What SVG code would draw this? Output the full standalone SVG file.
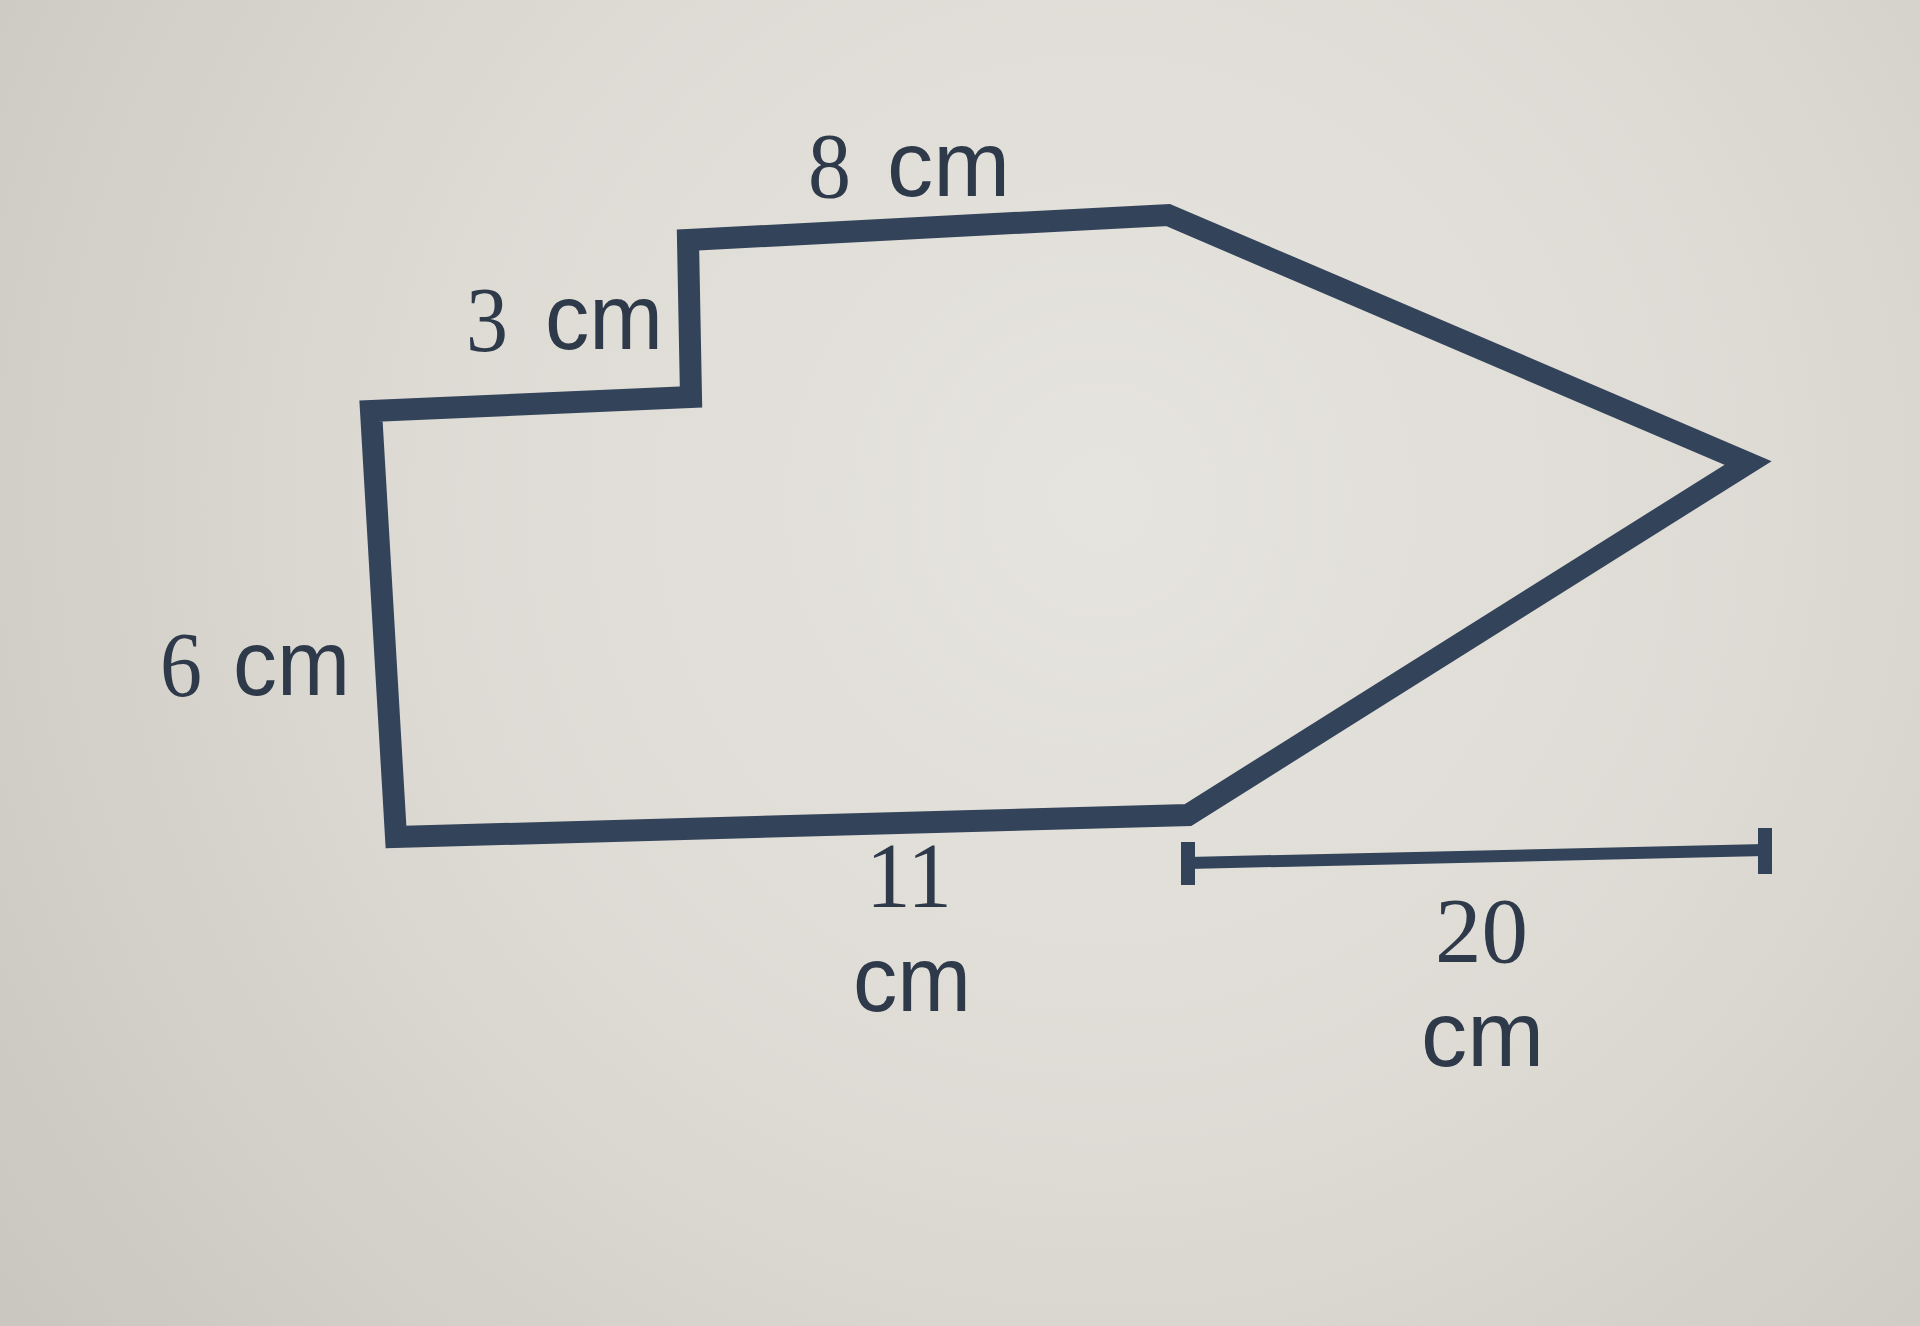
<svg xmlns="http://www.w3.org/2000/svg" width="1920" height="1326" viewBox="0 0 1920 1326">
<defs>
<radialGradient id="bg" cx="1100" cy="500" r="1350" gradientUnits="userSpaceOnUse">
<stop offset="0" stop-color="#e6e4de"/>
<stop offset="0.5" stop-color="#dddbd4"/>
<stop offset="1" stop-color="#c9c7c0"/>
</radialGradient>
<style>
.shape{fill:none;stroke:#33435a;stroke-width:22;stroke-linejoin:miter}
.bar{fill:none;stroke:#33435a;stroke-width:12}
.tick{fill:none;stroke:#33435a;stroke-width:14}
.num{font-family:"Liberation Serif","Times New Roman",serif;font-size:94px;fill:#2e394a}
.unit{font-family:"Liberation Sans",Arial,sans-serif;font-size:92px;fill:#2e394a}
</style>
</defs>
<rect x="0" y="0" width="1920" height="1326" fill="url(#bg)"/>
<g id="figure">
<polygon class="shape" points="688,240 1168,215 1748,463 1188,815 396,837 371,411 691,397"/>
</g>
<g id="connectors">
<line class="bar" x1="1188" y1="863" x2="1765" y2="850"/>
<line class="tick" x1="1188" y1="842" x2="1188" y2="885"/>
<line class="tick" x1="1765" y1="828" x2="1765" y2="874"/>
</g>
<g id="label-8cm">
<text class="num" x="808" y="197" textLength="43" lengthAdjust="spacingAndGlyphs">8</text>
<text class="unit" x="887" y="196" textLength="123" lengthAdjust="spacingAndGlyphs">cm</text>
</g>
<g id="label-3cm">
<text class="num" x="466" y="351" textLength="42" lengthAdjust="spacingAndGlyphs">3</text>
<text class="unit" x="545" y="349" textLength="118" lengthAdjust="spacingAndGlyphs">cm</text>
</g>
<g id="label-6cm">
<text class="num" x="160" y="696" textLength="42" lengthAdjust="spacingAndGlyphs">6</text>
<text class="unit" x="233" y="695" textLength="117" lengthAdjust="spacingAndGlyphs">cm</text>
</g>
<g id="label-11cm">
<text class="num" x="866" y="907" textLength="86" lengthAdjust="spacingAndGlyphs">11</text>
<text class="unit" x="853" y="1011" textLength="118" lengthAdjust="spacingAndGlyphs">cm</text>
</g>
<g id="label-20cm">
<text class="num" x="1435" y="962" textLength="93" lengthAdjust="spacingAndGlyphs">20</text>
<text class="unit" x="1421" y="1066" textLength="123" lengthAdjust="spacingAndGlyphs">cm</text>
</g>
</svg>
